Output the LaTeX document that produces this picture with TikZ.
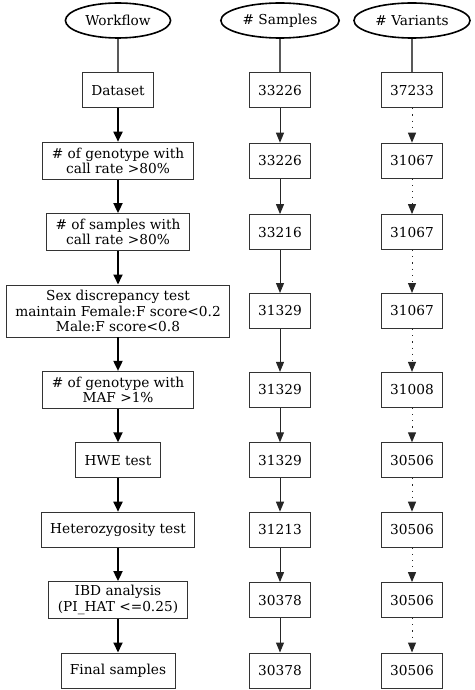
\documentclass[tikz,border=0pt]{standalone}
\usepackage{fontspec}
\setmainfont{DejaVu Serif}
\usetikzlibrary{arrows.meta,positioning,shapes.geometric}

\begin{document}
\begin{tikzpicture}[node distance=33.5pt,font=\fontsize{13.7}{15.5}\selectfont]
\tikzstyle{head}=[ellipse,draw=black,line width=1.6pt,minimum height=35pt,inner xsep=4.5pt,inner ysep=2pt]
\tikzstyle{box}=[rectangle,draw=black!80,line width=0.9pt,align=center,minimum width=60pt,minimum height=35pt,inner xsep=9pt,inner ysep=1pt]
\tikzstyle{two}=[minimum height=37pt]
\tikzstyle{three}=[minimum height=52pt]
\tikzstyle{link}=[draw=black!65,line width=1.1pt]
\tikzstyle{wfarrow}=[-{Triangle[length=10pt,width=9pt]},line width=1.8pt]
\tikzstyle{smarrow}=[-{Triangle[length=10pt,width=8pt]},line width=1pt,black!85]
\tikzstyle{vararrow}=[smarrow,dash pattern=on 1.2pt off 5pt]

\useasboundingbox (0,0) rectangle (474pt,-690pt);

\node[head]	(wh)	at (118pt,-20.5pt)	{Workflow};
\node[head]	(sh)	at (280pt,-20.5pt)	{\# Samples};
\node[head]	(vh)	at (412pt,-20.5pt)	{\# Variants};

\node[box]		(w1)	[below=of wh]	{Dataset};
\node[box,two]		(w2)	[below=of w1]	{\# of genotype with\\call rate >80\%};
\node[box,two]		(w3)	[below=of w2]	{\# of samples with\\call rate >80\%};
\node[box,three]	(w4)	[below=of w3]	{Sex discrepancy test\\maintain Female:F score<0.2\\Male:F score<0.8};
\node[box,two]		(w5)	[below=of w4]	{\# of genotype with\\MAF >1\%};
\node[box]		(w6)	[below=of w5]	{HWE test};
\node[box]		(w7)	[below=of w6]	{Heterozygosity test};
\node[box,two]		(w8)	[below=of w7]	{IBD analysis\\(PI\_HAT <=0.25)};
\node[box]		(w9)	[below=of w8]	{Final samples};

\node[box]	(s1)	at (sh |- w1)	{33226};
\node[box]	(s2)	at (sh |- w2)	{33226};
\node[box]	(s3)	at (sh |- w3)	{33216};
\node[box]	(s4)	at (sh |- w4)	{31329};
\node[box]	(s5)	at (sh |- w5)	{31329};
\node[box]	(s6)	at (sh |- w6)	{31329};
\node[box]	(s7)	at (sh |- w7)	{31213};
\node[box]	(s8)	at (sh |- w8)	{30378};
\node[box]	(s9)	at (sh |- w9)	{30378};

\node[box]	(v1)	at (vh |- w1)	{37233};
\node[box]	(v2)	at (vh |- w2)	{31067};
\node[box]	(v3)	at (vh |- w3)	{31067};
\node[box]	(v4)	at (vh |- w4)	{31067};
\node[box]	(v5)	at (vh |- w5)	{31008};
\node[box]	(v6)	at (vh |- w6)	{30506};
\node[box]	(v7)	at (vh |- w7)	{30506};
\node[box]	(v8)	at (vh |- w8)	{30506};
\node[box]	(v9)	at (vh |- w9)	{30506};

\path[link]	(wh)	edge	(w1)
		(sh)	edge	(s1)
		(vh)	edge	(v1);

\path[wfarrow]	(w1)	edge	(w2)
		(w2)	edge	(w3)
		(w3)	edge	(w4)
		(w4)	edge	(w5)
		(w5)	edge	(w6)
		(w6)	edge	(w7)
		(w7)	edge	(w8)
		(w8)	edge	(w9);

\path[smarrow]	(s1)	edge	(s2)
		(s2)	edge	(s3)
		(s3)	edge	(s4)
		(s4)	edge	(s5)
		(s5)	edge	(s6)
		(s6)	edge	(s7)
		(s7)	edge	(s8)
		(s8)	edge	(s9);

\path[vararrow]	(v1)	edge	(v2)
		(v2)	edge	(v3)
		(v3)	edge	(v4)
		(v4)	edge	(v5)
		(v5)	edge	(v6)
		(v6)	edge	(v7)
		(v7)	edge	(v8)
		(v8)	edge	(v9);

\end{tikzpicture}
\end{document}
